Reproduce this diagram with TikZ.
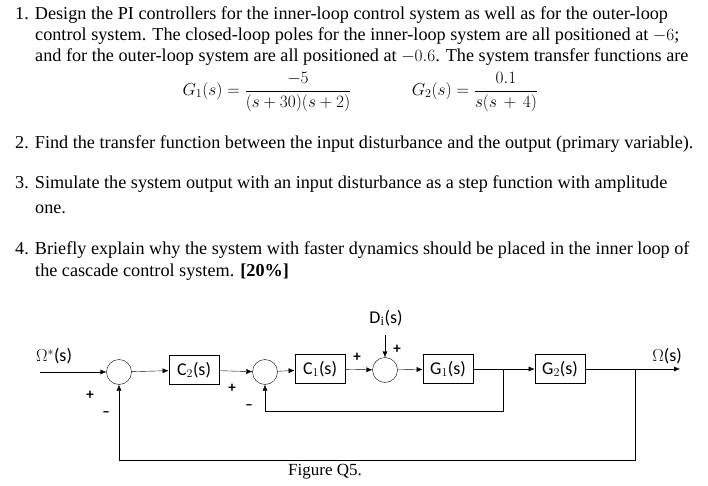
\documentclass[tikz,border=0pt]{standalone}
\usepackage{amsmath}
\usepackage{fontspec}
\setmainfont{Liberation Serif}
\newfontfamily\diag{Carlito}
\usetikzlibrary{arrows.meta}
\begin{document}
\begin{tikzpicture}[x=1pt,y=-1pt,
  txt/.style={anchor=base west,inner sep=0pt,font=\fontsize{18.2}{20}\selectfont},
  blk/.style={draw,thick,minimum width=50pt,minimum height=29pt,inner sep=0pt,font=\diag\fontsize{18}{20}\selectfont},
  sumn/.style={draw,circle,minimum size=25pt,inner sep=0pt},
  lab/.style={font=\diag\fontsize{18}{20}\selectfont,inner sep=0pt},
  sg/.style={font=\diag\bfseries\fontsize{15}{15}\selectfont,inner sep=0pt},
  ar/.style={-{Latex[length=6pt,width=5pt]}}]
\useasboundingbox (0,0) rectangle (708,486);
\node[txt] (l1) at (15,20) {1. Design the PI controllers for the inner-loop control system as well as for the outer-loop};
\node[txt] (l2) at (35,41) {control system. The closed-loop poles for the inner-loop system are all positioned at $-6$;};
\node[txt] (l3) at (35,62) {and for the outer-loop system are all positioned at $-0.6$. The system transfer functions are};
\node[inner sep=0pt,font=\fontsize{17}{19}\selectfont] (g1) at (267,92) {$G_1(s)=\dfrac{-5}{(s+30)(s+2)}$};
\node[inner sep=0pt,font=\fontsize{17}{19}\selectfont] (g2) at (475,92) {$G_2(s)=\dfrac{0.1}{s(s\,+\,4)}$};
\node[txt] (l4) at (15,149) {2. Find the transfer function between the input disturbance and the output (primary variable).};
\node[txt] (l5) at (15,189) {3. Simulate the system output with an input disturbance as a step function with amplitude};
\node[txt] (l6) at (35,214) {one.};
\node[txt] (l7) at (15,254) {4. Briefly explain why the system with faster dynamics should be placed in the inner loop of};
\node[txt] (l8) at (35,276) {the cascade control system. \textbf{[20\%]}};

\node[sumn] (s1) at (119,372) {};
\node[blk] (c2) at (194,370) {C$_2$(s)};
\node[sumn] (s2) at (265,372) {};
\node[blk] (c1) at (320,369) {C$_1$(s)};
\node[sumn] (s3) at (385,370) {};
\node[blk] (gg1) at (448,369) {G$_1$(s)};
\node[blk] (gg2) at (560,369) {G$_2$(s)};
\coordinate (in) at (40,372);
\coordinate (out) at (680,369);
\coordinate (dtop) at (385,335);
\coordinate (b1) at (503,369);
\coordinate (b2) at (635,369);
\node[lab] (om) at (54,356) {$\Omega^*$(s)};
\node[lab] (omo) at (667,356) {$\Omega$(s)};
\node[lab] (di) at (386,318) {D$_{\mathrm{i}}$(s)};
\draw[ar] (in) -- (s1);
\draw[ar] (s1) -- (c2);
\draw[ar] (c2) -- (s2);
\draw[ar] (s2) -- (c1);
\draw[ar] (c1) -- (s3);
\draw[ar] (dtop) -- (s3);
\draw[ar] (s3) -- (gg1);
\draw[ar] (gg1) -- (gg2);
\draw[ar] (gg2) -- (out);
\draw[ar] (b1) |- (265,411) -- (s2);
\draw[ar] (b2) |- (119,460) -- (s1);
\node[sg] at (90,395) {+};
\node[sg] at (106,414) {–};
\node[sg] at (232,388) {+};
\node[sg] at (249,407) {–};
\node[sg] at (357,357) {+};
\node[sg] at (397,349) {+};
\node[inner sep=0pt,font=\fontsize{17}{19}\selectfont] (cap) at (325,472) {Figure Q5.};
\end{tikzpicture}
\end{document}
